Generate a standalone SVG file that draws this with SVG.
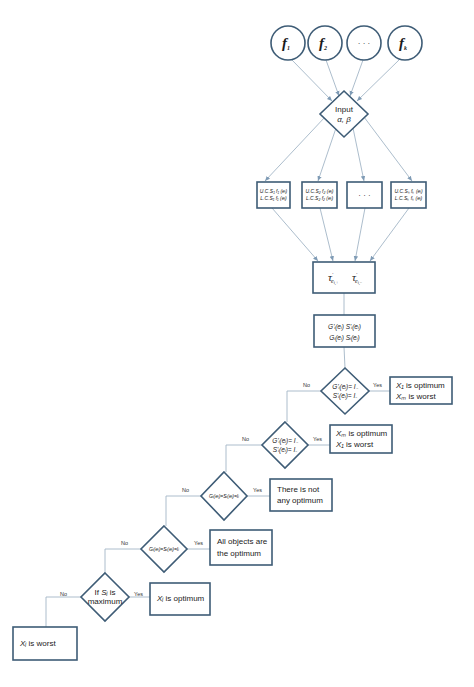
<svg xmlns="http://www.w3.org/2000/svg" width="474" height="687" viewBox="0 0 474 687">
<style>
.n{fill:#fff;stroke:#3e5c76;stroke-width:1.6}
.c{fill:none;stroke:#a3b5c6;stroke-width:0.9}
.t{font-family:"Liberation Sans",Arial,sans-serif;font-size:8px;fill:#1a1a1a}
.s{font-family:"Liberation Sans",Arial,sans-serif;font-size:5px;font-style:italic;fill:#1a1a1a}
.m{font-family:"Liberation Sans",Arial,sans-serif;font-size:6.5px;font-style:italic;fill:#1a1a1a}
.l{font-family:"Liberation Sans",Arial,sans-serif;font-size:5.5px;fill:#333}
.f{font-family:"Liberation Serif","Times New Roman",serif;font-size:15px;font-weight:bold;font-style:italic;fill:#1a1a1a}
.fs{font-size:6px}
.tau{font-family:"Liberation Serif","Times New Roman",serif;font-size:11px;font-style:italic;fill:#1a1a1a}
</style>
<defs>
<marker id="a" markerWidth="6" markerHeight="6" refX="5" refY="3" orient="auto" markerUnits="userSpaceOnUse">
<path d="M0,0.8 L5,3 L0,5.2 z" fill="#7f9bb5"/>
</marker>
</defs>
<rect width="474" height="687" fill="#fff"/>
<g id="connectors">
<line class="c" x1="292" y1="60" x2="332" y2="101" marker-end="url(#a)"/>
<line class="c" x1="326" y1="60" x2="339" y2="96" marker-end="url(#a)"/>
<line class="c" x1="363" y1="60" x2="350" y2="96" marker-end="url(#a)"/>
<line class="c" x1="400" y1="59" x2="357" y2="101" marker-end="url(#a)"/>
<line class="c" x1="325" y1="117" x2="265" y2="181" marker-end="url(#a)"/>
<line class="c" x1="336" y1="128" x2="318" y2="181" marker-end="url(#a)"/>
<line class="c" x1="353" y1="128" x2="364" y2="181" marker-end="url(#a)"/>
<line class="c" x1="364" y1="117" x2="412" y2="181" marker-end="url(#a)"/>
<line class="c" x1="272" y1="208" x2="318" y2="261" marker-end="url(#a)"/>
<line class="c" x1="320" y1="208" x2="333" y2="261" marker-end="url(#a)"/>
<line class="c" x1="365" y1="208" x2="355" y2="261" marker-end="url(#a)"/>
<line class="c" x1="409" y1="208" x2="370" y2="261" marker-end="url(#a)"/>
<line class="c" x1="344" y1="293" x2="344" y2="315"/>
<line class="c" x1="344" y1="347" x2="345" y2="368"/>
<polyline class="c" points="321,391 287,391 287,422"/>
<line class="c" x1="369" y1="391" x2="390" y2="391"/>
<polyline class="c" points="262,445 226,445 226,472"/>
<line class="c" x1="308" y1="445" x2="330" y2="445"/>
<polyline class="c" points="201,496 166,496 166,526"/>
<line class="c" x1="247" y1="496" x2="270" y2="496"/>
<polyline class="c" points="141,549 105,549 105,573"/>
<line class="c" x1="187" y1="549" x2="210" y2="549"/>
<polyline class="c" points="81,597 46,597 46,627"/>
<line class="c" x1="129" y1="597" x2="150" y2="597"/>
<text class="l" x="303" y="387">No</text>
<text class="l" x="373" y="387">Yes</text>
<text class="l" x="242" y="441">No</text>
<text class="l" x="313" y="441">Yes</text>
<text class="l" x="182" y="492">No</text>
<text class="l" x="253" y="492">Yes</text>
<text class="l" x="121" y="545">No</text>
<text class="l" x="194" y="545">Yes</text>
<text class="l" x="60" y="596">No</text>
<text class="l" x="134" y="596">Yes</text>
</g>
<g id="f1"><circle class="n" cx="288" cy="43" r="17"/><text class="f" x="282" y="48">f<tspan class="fs" dy="2">1</tspan></text></g>
<g id="f2"><circle class="n" cx="325" cy="43" r="17"/><text class="f" x="319" y="48">f<tspan class="fs" dy="2">2</tspan></text></g>
<g id="fdots"><circle class="n" cx="364" cy="43" r="17"/><text class="t" x="364" y="46" text-anchor="middle">· · ·</text></g>
<g id="fk"><circle class="n" cx="405" cy="43" r="17"/><text class="f" x="399" y="48">f<tspan class="fs" dy="2">k</tspan></text></g>
<g id="input"><polygon class="n" points="344,91 368,114 344,137 320,114"/><text class="t" x="344" y="112" text-anchor="middle">Input</text><text class="t" x="344" y="122" text-anchor="middle" font-style="italic">α, β</text></g>
<g id="b1"><rect class="n" x="257" y="182" width="33" height="26"/><text class="s" x="273.5" y="193" text-anchor="middle">U.C.S₁ f₁ (eᵢ)</text><text class="s" x="273.5" y="200" text-anchor="middle">L.C.S₁ f₁ (eᵢ)</text></g>
<g id="b2"><rect class="n" x="302" y="182" width="35" height="26"/><text class="s" x="319.5" y="193" text-anchor="middle">U.C.S₂ f₂ (eᵢ)</text><text class="s" x="319.5" y="200" text-anchor="middle">L.C.S₂ f₂ (eᵢ)</text></g>
<g id="b3"><rect class="n" x="347" y="182" width="35" height="26"/><text class="t" x="364.5" y="198" text-anchor="middle">· · ·</text></g>
<g id="bk"><rect class="n" x="391" y="182" width="35" height="26"/><text class="s" x="408.5" y="193" text-anchor="middle">U.C.Sₖ fₖ (eᵢ)</text><text class="s" x="408.5" y="200" text-anchor="middle">L.C.Sₖ fₖ (eᵢ)</text></g>
<g id="tau"><rect class="n" x="313" y="262" width="62" height="31"/><text class="tau" x="328" y="281">τ<tspan font-size="5" dy="-5">'</tspan><tspan font-size="6" dx="-2" dy="7">e</tspan><tspan font-size="4" dy="1">i,+</tspan></text><text class="tau" x="352" y="281">τ<tspan font-size="5" dy="-5">'</tspan><tspan font-size="6" dx="-2" dy="7">e</tspan><tspan font-size="4" dy="1">i,−</tspan></text></g>
<g id="gs"><rect class="n" x="314" y="315" width="61" height="32"/><text class="m" x="344.5" y="329" text-anchor="middle">G'ᵢ(eᵢ)  S'ᵢ(eᵢ)</text><text class="m" x="344.5" y="340" text-anchor="middle">Gᵢ(eᵢ)  Sᵢ(eᵢ)</text></g>
<g id="d1"><polygon class="n" points="345,368 369,391 345,414 321,391"/><text class="m" x="345" y="389" text-anchor="middle">G'ᵢ(eᵢ)= I₋</text><text class="m" x="345" y="398" text-anchor="middle">S'ᵢ(eᵢ)= I₋</text></g>
<g id="y1"><rect class="n" x="390" y="377" width="62" height="27"/><text class="t" x="396" y="388"><tspan font-style="italic">X₁</tspan> is optimum</text><text class="t" x="396" y="399"><tspan font-style="italic">Xₘ</tspan> is worst</text></g>
<g id="d2"><polygon class="n" points="285,422 308,445 285,468 262,445"/><text class="m" x="285" y="443" text-anchor="middle">G'ᵢ(eᵢ)= I₋</text><text class="m" x="285" y="452" text-anchor="middle">S'ᵢ(eᵢ)= I₋</text></g>
<g id="y2"><rect class="n" x="330" y="425" width="62" height="28"/><text class="t" x="336" y="436"><tspan font-style="italic">Xₘ</tspan> is optimum</text><text class="t" x="336" y="447"><tspan font-style="italic">X₁</tspan> is worst</text></g>
<g id="d3"><polygon class="n" points="224,472 247,496 224,520 201,496"/><text class="s" x="224" y="498" text-anchor="middle">Gᵢ(eᵢ)=Sᵢ(eᵢ)=Iᵢ</text></g>
<g id="y3"><rect class="n" x="270" y="479" width="62" height="32"/><text class="t" x="277" y="492">There is not</text><text class="t" x="277" y="503">any optimum</text></g>
<g id="d4"><polygon class="n" points="164,526 187,549 164,572 141,549"/><text class="s" x="164" y="551" text-anchor="middle">Gᵢ(eᵢ)=Sᵢ(eᵢ)=Iᵢ</text></g>
<g id="y4"><rect class="n" x="210" y="530" width="62" height="35"/><text class="t" x="217" y="544">All objects are</text><text class="t" x="217" y="556">the optimum</text></g>
<g id="d5"><polygon class="n" points="105,573 129,597 105,621 81,597"/><text class="t" x="105" y="595" text-anchor="middle">If <tspan font-style="italic">Sᵢ</tspan> is</text><text class="t" x="105" y="604" text-anchor="middle">maximum</text></g>
<g id="y5"><rect class="n" x="150" y="583" width="60" height="32"/><text class="t" x="157" y="601"><tspan font-style="italic">Xᵢ</tspan> is optimum</text></g>
<g id="y6"><rect class="n" x="13" y="627" width="64" height="33"/><text class="t" x="20" y="646"><tspan font-style="italic">Xᵢ</tspan> is worst</text></g>
</svg>
